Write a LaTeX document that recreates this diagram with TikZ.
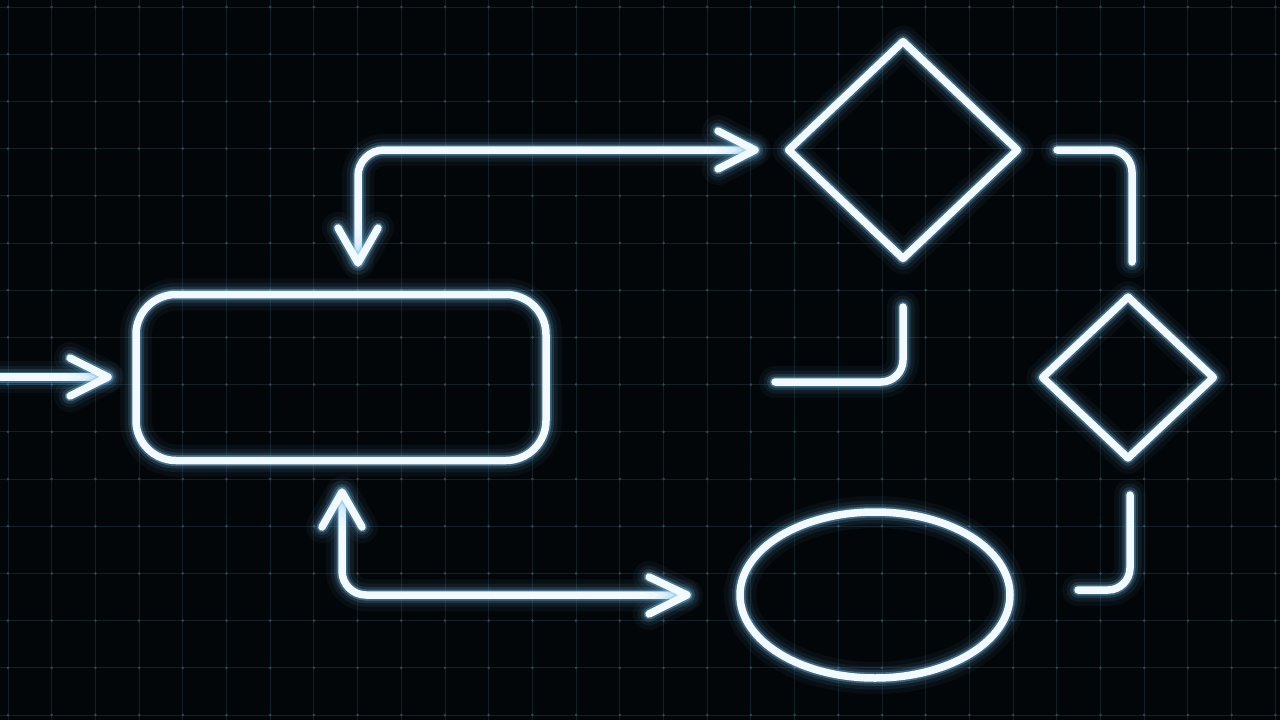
\documentclass[tikz,border=0pt]{standalone}
\usetikzlibrary{shapes.geometric}
\definecolor{bgc}{RGB}{3,6,9}
\definecolor{gridc}{RGB}{17,31,38}
\definecolor{dotc}{RGB}{42,70,82}
\definecolor{glowc}{RGB}{110,185,230}
\definecolor{corec}{RGB}{242,250,255}
\tikzset{
  glowline/.style={draw=glowc, line cap=round, line join=round},
  neon/.style={draw=corec, line width=7.5pt, line cap=round, line join=round,
    preaction={glowline, line width=32pt, draw opacity=0.05},
    preaction={glowline, line width=23pt, draw opacity=0.08},
    preaction={glowline, line width=16pt, draw opacity=0.16},
    preaction={glowline, line width=11pt, draw opacity=0.4}},
  neonshape/.style={neon, inner sep=0pt, fill=none},
}
\begin{document}
\begin{tikzpicture}[x=1pt,y=-1pt]
\useasboundingbox (0,0) rectangle (1280,720);
\fill[bgc] (0,0) rectangle (1280,720);
% grid
\foreach \i in {0,...,29} {
  \draw[gridc, line width=0.9pt] ({8+43.7*\i},0) -- ({8+43.7*\i},720);
}
\foreach \j in {0,...,15} {
  \draw[gridc, line width=0.9pt] (0,{7+47.2*\j}) -- (1280,{7+47.2*\j});
}
\foreach \i in {0,...,29} {
  \foreach \j in {0,...,15} {
    \fill[dotc] ({8+43.7*\i},{7+47.2*\j}) circle (1.5pt);
  }
}
% shapes
\node[neonshape, rectangle, rounded corners=40pt, minimum width=410pt, minimum height=166pt] (proc) at (341,377.5) {};
\node[neonshape, diamond, minimum width=232pt, minimum height=220pt] (dec1) at (903,150) {};
\node[neonshape, diamond, minimum width=174pt, minimum height=164pt] (dec2) at (1128,377.5) {};
\node[neonshape, ellipse, minimum width=270pt, minimum height=166pt] (term) at (875,595) {};
% connector end points
\coordinate (inS) at (0,377);
\coordinate (inT) at (108,377);
\coordinate (topA) at (358,263);
\coordinate (topB) at (755,150);
\coordinate (botA) at (342,492);
\coordinate (botB) at (687,595);
\coordinate (b1s) at (1057,150);
\coordinate (b1e) at (1132,262);
\coordinate (b2s) at (903,307);
\coordinate (b2e) at (775,382);
\coordinate (b3s) at (1130,495);
\coordinate (b3e) at (1078,590);
% connectors
\draw[neon] (inS) -- ([xshift=-2pt]inT);
\draw[neon] ([shift={(-38,-19)}]inT) -- (inT) -- ([shift={(-38,19)}]inT);
\draw[neon, rounded corners=26pt] ([yshift=4pt]topA) |- ([xshift=-3pt]topB);
\draw[neon] ([shift={(-20,-35)}]topA) -- (topA) -- ([shift={(20,-35)}]topA);
\draw[neon] ([shift={(-37,-19)}]topB) -- (topB) -- ([shift={(-37,19)}]topB);
\draw[neon, rounded corners=24pt] ([yshift=-4pt]botA) |- ([xshift=-3pt]botB);
\draw[neon] ([shift={(-20,35)}]botA) -- (botA) -- ([shift={(20,35)}]botA);
\draw[neon] ([shift={(-38,-18)}]botB) -- (botB) -- ([shift={(-38,19)}]botB);
% brackets
\draw[neon, rounded corners=22pt] (b1s) -| (b1e);
\draw[neon, rounded corners=22pt] (b2s) |- (b2e);
\draw[neon, rounded corners=22pt] (b3s) |- (b3e);
\end{tikzpicture}
\end{document}
